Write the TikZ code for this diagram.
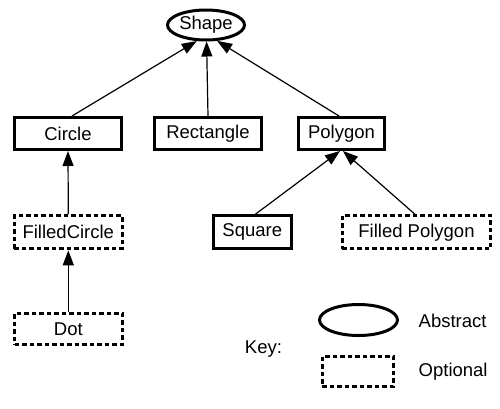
\documentclass[tikz,border=0pt]{standalone}
\usepackage{fontspec}
\setmainfont{Liberation Sans}
\usetikzlibrary{arrows.meta,shapes.geometric}
\begin{document}
\begin{tikzpicture}[x=1pt,y=-1pt,
  every node/.style={font=\fontsize{18.5}{20}\selectfont, inner sep=0pt},
  cls/.style={draw, rectangle, line width=3pt, minimum height=32pt},
  opt/.style={cls, dash pattern=on 4.5pt off 3pt},
  abs/.style={draw, ellipse, line width=3pt},
  edge/.style={line width=1.2pt, -{Triangle[length=15pt,width=11pt]}},
  lbl/.style={anchor=west}]
\useasboundingbox (0,0) rectangle (500,408);
\node[abs, minimum width=77pt, minimum height=30pt] (shape) at (206,25) {Shape};
\node[cls, minimum width=107pt] (circle) at (68,133.5) {Circle};
\node[cls, minimum width=107pt] (rect) at (208,133.5) {Rectangle};
\node[cls, minimum width=86pt] (poly) at (341.5,133.5) {Polygon};
\node[opt, minimum width=108pt, minimum height=33pt] (fcircle) at (68.3,232.3) {FilledCircle};
\node[cls, minimum width=77.5pt, minimum height=33pt] (square) at (252.3,232.3) {Square};
\node[opt, minimum width=148.5pt, minimum height=33pt] (fpoly) at (416.5,232.3) {Filled Polygon};
\node[opt, minimum width=107.5pt, minimum height=31.5pt] (dot) at (68.3,328.8) {Dot};
\node[abs, minimum width=78pt, minimum height=31pt] (kabs) at (358.5,320) {};
\node[opt, minimum width=71.5pt, minimum height=29.5pt] (kopt) at (358,371.3) {};
\node[lbl] (tabs) at (418.5,321) {Abstract};
\node[lbl] (topt) at (418.5,371.5) {Optional};
\node (key) at (263.5,349) {Key:};
\draw[edge] ([xshift=4pt]circle.north) -- (shape.240);
\draw[edge] (rect.north) -- (shape.272);
\draw[edge] ([xshift=-2.5pt]poly.north) -- (shape.305);
\draw[edge] ([xshift=3pt]square.north) -- ([xshift=-1.5pt]poly.south);
\draw[edge] ([xshift=-1.5pt]fpoly.north) -- ([xshift=1.5pt]poly.south);
\draw[edge] (fcircle.north) -- (circle.south);
\draw[edge] (dot.north) -- (fcircle.south);
\end{tikzpicture}
\end{document}
